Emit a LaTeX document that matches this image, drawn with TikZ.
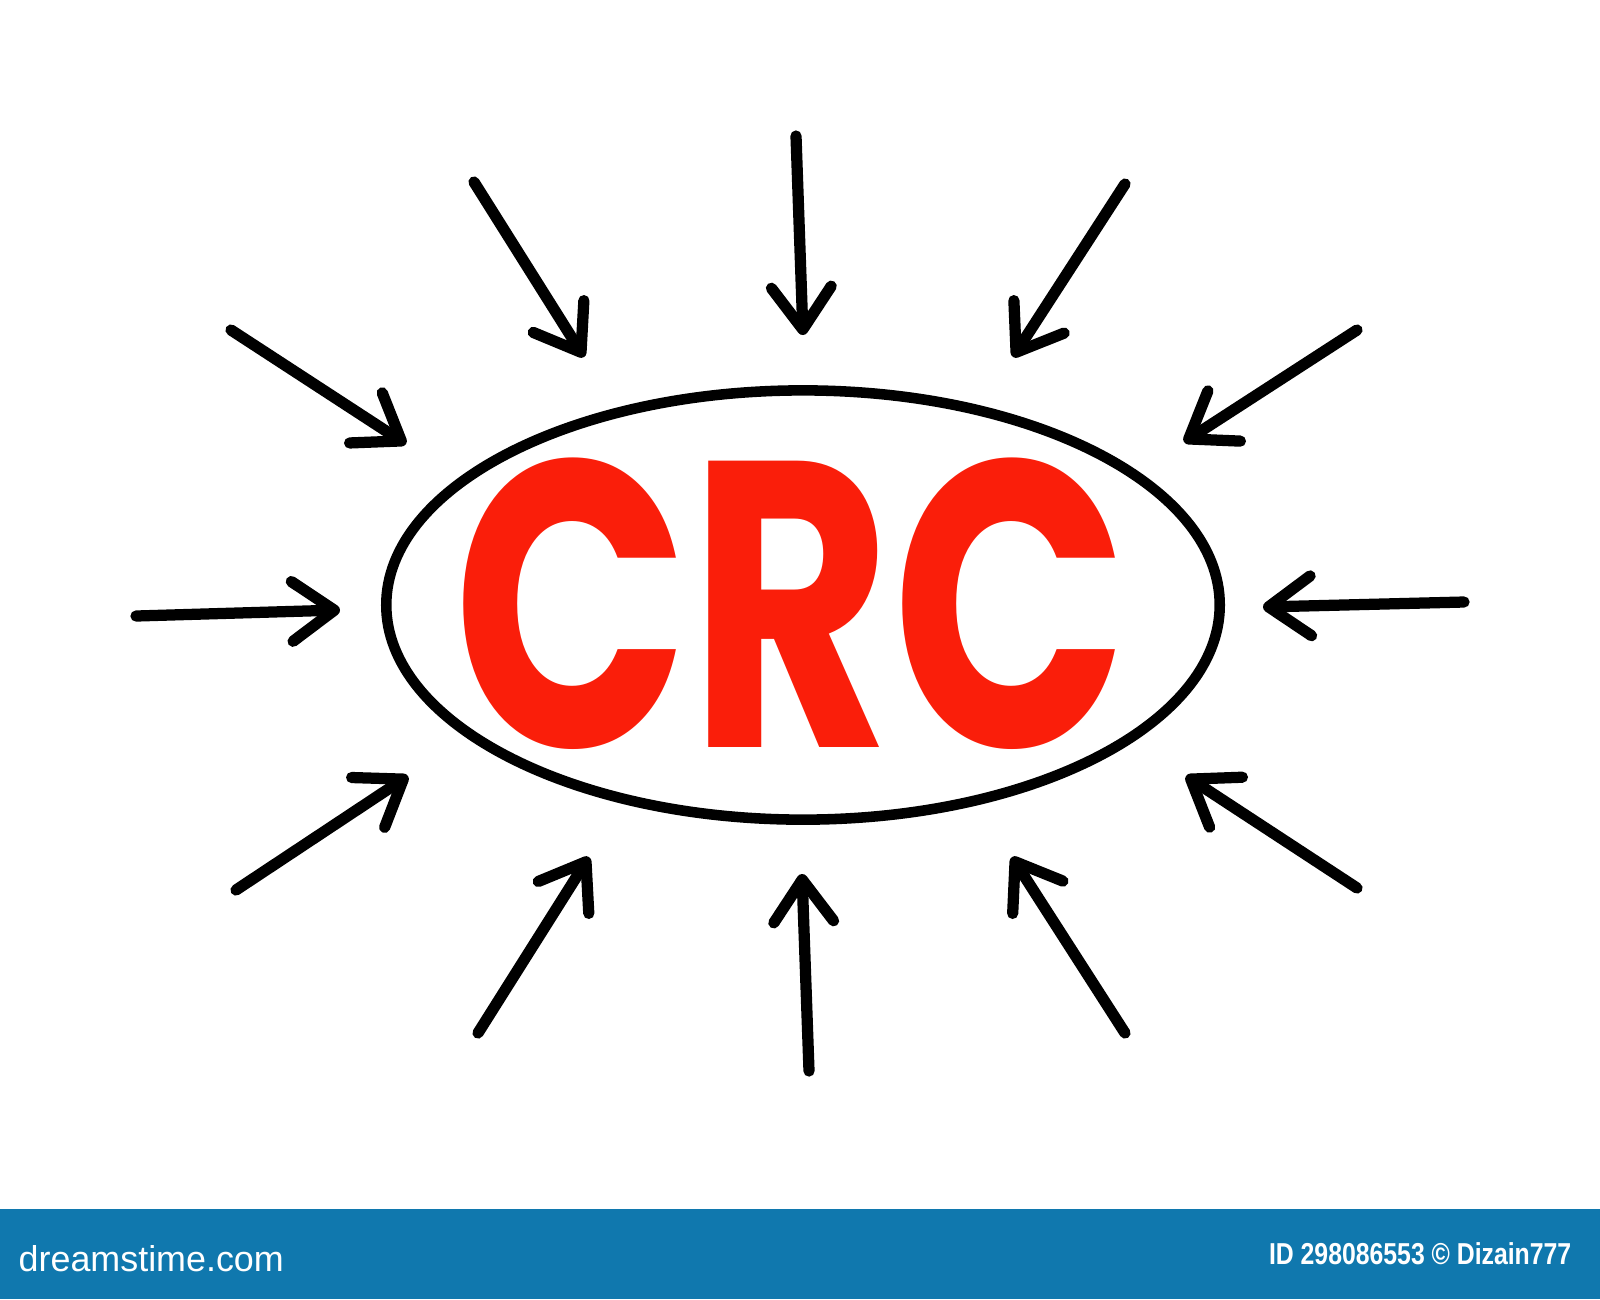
\documentclass[tikz,border=0pt]{standalone}
\usepackage{fontspec}
\usepackage{xcolor}
\usepackage{tikz}
\usetikzlibrary{shapes.geometric,arrows.meta}
\newfontfamily\crcfont{Poppins}
\newfontfamily\footfont{Liberation Sans}
\definecolor{crcred}{RGB}{250,30,10}
\definecolor{footblue}{RGB}{16,120,174}

\begin{document}
\begin{tikzpicture}[x=0.01cm,y=-0.01cm,
    inarrow/.style={-{Straight Barb[length=12pt,width=17pt,round]},line width=3.2pt,line cap=round},
    ring/.style={draw,ellipse,line width=3pt,minimum width=8.33cm,minimum height=4.29cm,inner sep=0pt}]
    \useasboundingbox (0,0) rectangle (1600,1299);
    \node[ring] (crc) at (803,605) {};
    \node[text=crcred,inner sep=0pt,font=\fontsize{116}{116}\selectfont\crcfont\bfseries] (crctext) at (791,604) {\scalebox{0.76}[1]{CRC}};
    \coordinate (nS) at (796,136);   \coordinate (nE) at (803,335);
    \coordinate (nwS) at (474,182);  \coordinate (nwE) at (584,357);
    \coordinate (neS) at (1125,184); \coordinate (neE) at (1013,357);
    \coordinate (wnS) at (231,330);  \coordinate (wnE) at (406,444);
    \coordinate (enS) at (1357,330); \coordinate (enE) at (1184,442);
    \coordinate (wS) at (136,616);   \coordinate (wE) at (340,610);
    \coordinate (eS) at (1464,602);  \coordinate (eE) at (1263,607);
    \coordinate (wsS) at (236,890);  \coordinate (wsE) at (408,776);
    \coordinate (esS) at (1357,888); \coordinate (esE) at (1186,776);
    \coordinate (swS) at (478,1033); \coordinate (swE) at (589,857);
    \coordinate (sS) at (809,1071);  \coordinate (sE) at (802,874);
    \coordinate (seS) at (1125,1033); \coordinate (seE) at (1012,857);
    \draw[inarrow] (nS) -- (nE);
    \draw[inarrow] (nwS) -- (nwE);
    \draw[inarrow] (neS) -- (neE);
    \draw[inarrow] (wnS) -- (wnE);
    \draw[inarrow] (enS) -- (enE);
    \draw[inarrow] (wS) -- (wE);
    \draw[inarrow] (eS) -- (eE);
    \draw[inarrow] (wsS) -- (wsE);
    \draw[inarrow] (esS) -- (esE);
    \draw[inarrow] (swS) -- (swE);
    \draw[inarrow] (sS) -- (sE);
    \draw[inarrow] (seS) -- (seE);
    \fill[footblue] (0,1209) rectangle (1600,1299);
    \node[anchor=west,text=white,inner sep=0pt,font=\fontsize{10.2}{10.2}\selectfont\footfont] (brand) at (18,1259) {dreamstime.com};
    \node[anchor=east,text=white,inner sep=0pt,font=\fontsize{8.6}{8.6}\selectfont\footfont\bfseries] (credit) at (1572,1254) {\scalebox{0.82}[1]{ID 298086553 © Dizain777}};
\end{tikzpicture}
\end{document}
